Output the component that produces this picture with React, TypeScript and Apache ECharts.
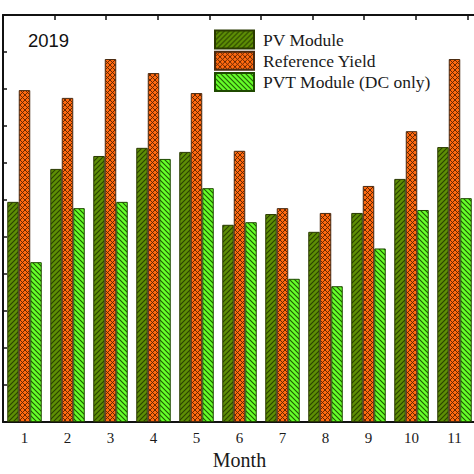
import React, { useEffect, useRef } from "react";
import * as echarts from "echarts";

const months = ["1", "2", "3", "4", "5", "6", "7", "8", "9", "10", "11"];
const pvModule = [5.95, 6.84, 7.19, 7.41, 7.3, 5.33, 5.62, 5.14, 5.65, 6.57, 7.43];
const referenceYield = [8.97, 8.76, 9.81, 9.43, 8.89, 7.33, 5.78, 5.65, 6.38, 7.86, 9.81];
const pvtModule = [4.32, 5.78, 5.95, 7.11, 6.32, 5.4, 3.87, 3.67, 4.69, 5.73, 6.05];
const seriesNames = ["PV Module", "Reference Yield", "PVT Module (DC only)"];

function makePattern(bg: string, line: string, mode: "fwd" | "back" | "cross") {
  const s = 5;
  const c = document.createElement("canvas");
  c.width = s;
  c.height = s;
  const ctx = c.getContext("2d")!;
  ctx.fillStyle = bg;
  ctx.fillRect(0, 0, s, s);
  ctx.strokeStyle = line;
  ctx.lineWidth = mode === "cross" ? 0.9 : 1.1;
  const fwd = () => {
    ctx.beginPath();
    ctx.moveTo(-1, s + 1);
    ctx.lineTo(s + 1, -1);
    ctx.moveTo(-1, 1);
    ctx.lineTo(1, -1);
    ctx.moveTo(s - 1, s + 1);
    ctx.lineTo(s + 1, s - 1);
    ctx.stroke();
  };
  const back = () => {
    ctx.beginPath();
    ctx.moveTo(-1, -1);
    ctx.lineTo(s + 1, s + 1);
    ctx.moveTo(s - 1, -1);
    ctx.lineTo(s + 1, 1);
    ctx.moveTo(-1, s - 1);
    ctx.lineTo(1, s + 1);
    ctx.stroke();
  };
  if (mode === "fwd") fwd();
  else if (mode === "back") back();
  else {
    fwd();
    back();
  }
  return { image: c, repeat: "repeat", imageWidth: s, imageHeight: s } as any;
}

export default function App() {
  const ref = useRef<HTMLDivElement>(null);
  useEffect(() => {
    if (!ref.current) return;
    const chart = echarts.init(ref.current, undefined, { renderer: "svg" });
    const pvFill = makePattern("#5e8f05", "#2a4200", "fwd");
    const refFill = makePattern("#ff6a10", "#5a2000", "cross");
    const pvtFill = makePattern("#66ff2a", "#1f5a00", "back");
    const fills = [pvFill, refFill, pvtFill];
    const data = [pvModule, referenceYield, pvtModule];
    const borders = ["#2a3a00", "#4a2a10", "#1f4a00"];
    chart.setOption({
      animation: false,
      title: {
        text: "2019",
        left: 28,
        top: 31,
        padding: 0,
        textStyle: { fontFamily: "Liberation Sans", fontSize: 18.5, fontWeight: "normal", color: "#111" },
      },
      legend: {
        orient: "vertical",
        left: 214,
        top: 29.5,
        padding: 0,
        itemWidth: 39,
        itemHeight: 18,
        itemGap: 1.3,
        icon: "rect",
        data: seriesNames,
        textStyle: {
          fontFamily: "Liberation Serif",
          fontSize: 17.5,
          lineHeight: 18,
          color: "#1a1a1a",
          padding: [0, 0, 0, 4],
        },
      },
      grid: { left: 3, right: -2, top: 15, bottom: 52, containLabel: false, outerBoundsMode: "none" },
      xAxis: [
        {
          type: "category",
          data: months,
          position: "bottom",
          name: "Month",
          nameLocation: "middle",
          nameGap: 24,
          nameTextStyle: { fontFamily: "Liberation Serif", fontSize: 20, color: "#1a1a1a" },
          axisLine: { show: true, lineStyle: { color: "#111", width: 2 } },
          axisTick: { show: false },
          axisLabel: { fontFamily: "Liberation Serif", fontSize: 15, color: "#1a1a1a", margin: 8 },
        },
        {
          type: "value",
          position: "top",
          min: 0,
          max: 9.166,
          interval: 1,
          axisLine: { show: true, lineStyle: { color: "#111", width: 2 } },
          axisTick: { show: true, inside: true, length: 5, lineStyle: { color: "#111", width: 1.5 } },
          axisLabel: { show: false },
          splitLine: { show: false },
        },
      ],
      yAxis: {
        type: "value",
        min: 0,
        max: 11,
        interval: 1,
        axisLine: { show: true, lineStyle: { color: "#111", width: 2 } },
        axisTick: { show: true, inside: true, length: 4, lineStyle: { color: "#111", width: 1.5 } },
        axisLabel: { show: false },
        splitLine: { show: false },
      },
      series: seriesNames.map((name, i) => ({
        name,
        type: "bar",
        xAxisIndex: 0,
        data: data[i],
        barWidth: 11.5,
        barGap: "0%",
        itemStyle: { color: fills[i], borderColor: borders[i], borderWidth: 1 },
      })),
    });
    return () => chart.dispose();
  }, []);
  return (
    <div
      ref={ref}
      style={{ position: "fixed", left: 0, top: 0, width: 474, height: 474, background: "#fff" }}
    />
  );
}
